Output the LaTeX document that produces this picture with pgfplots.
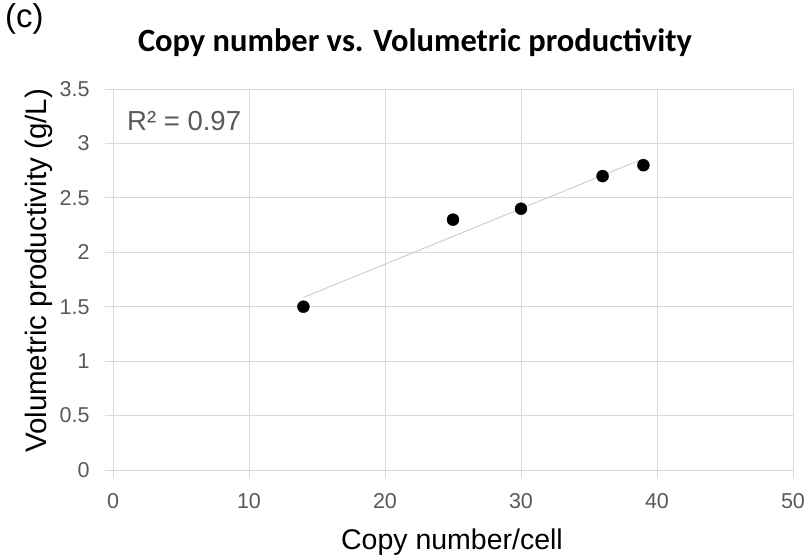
\documentclass[border=0pt]{standalone}
\usepackage{fontspec}
\setmainfont{Liberation Sans}
\newfontfamily\titlefont{Carlito}
\usepackage{pgfplots}
\pgfplotsset{compat=1.18}
\definecolor{gridc}{HTML}{D9D9D9}
\definecolor{tickc}{HTML}{595959}
\begin{document}
\begin{tikzpicture}
\begin{axis}[
  at={(0pt,0pt)}, anchor=south west,
  scale only axis, width=680pt, height=381pt,
  xmin=0, xmax=50, ymin=0, ymax=3.5,
  xtick={0,10,...,50}, ytick={0,0.5,...,3.5},
  /pgf/number format/assume math mode=true,
  yticklabel style={/pgf/number format/fixed, /pgf/number format/precision=1},
  grid=major, major grid style={gridc, line width=0.8pt},
  axis x line*=bottom, axis y line*=left,
  x axis line style={gridc, line width=0.8pt, -},
  y axis line style={draw=none},
  tick style={gridc, line width=0.8pt},
  tick align=outside, major tick length=8pt,
  ticklabel style={font=\fontsize{21.5}{24}\selectfont, text=tickc},
  xticklabel style={yshift=-12pt},
  yticklabel style={xshift=-12pt},
  clip=false,
]
\addplot[only marks, mark=*, mark size=6pt, black] coordinates {
  (14,1.5) (25,2.3) (30,2.4) (36,2.7) (39,2.8)
};
\addplot[no marks, gridc!80!gray, line width=0.8pt] coordinates {
  (14,1.585) (39,2.860)
};
\node[anchor=west, inner sep=0pt, text=tickc, font=\fontsize{27.5}{30}\selectfont] at (axis cs:1.03,3.21) {R² = 0.97};
\end{axis}
\node[font=\titlefont\bfseries\fontsize{32.5}{36}\selectfont] at (302pt,427pt) {Copy number vs. Volumetric productivity};
\node[anchor=west, inner sep=0pt, font=\fontsize{33}{36}\selectfont] at (-108pt,451pt) {(c)};
\node[font=\fontsize{28.5}{32}\selectfont] at (339pt,-72pt) {Copy number/cell};
\node[rotate=90, font=\fontsize{29.5}{32}\selectfont] at (-74pt,199pt) {Volumetric productivity (g/L)};
\useasboundingbox (-113pt,-85pt) rectangle (696pt,470pt);
\end{tikzpicture}
\end{document}
